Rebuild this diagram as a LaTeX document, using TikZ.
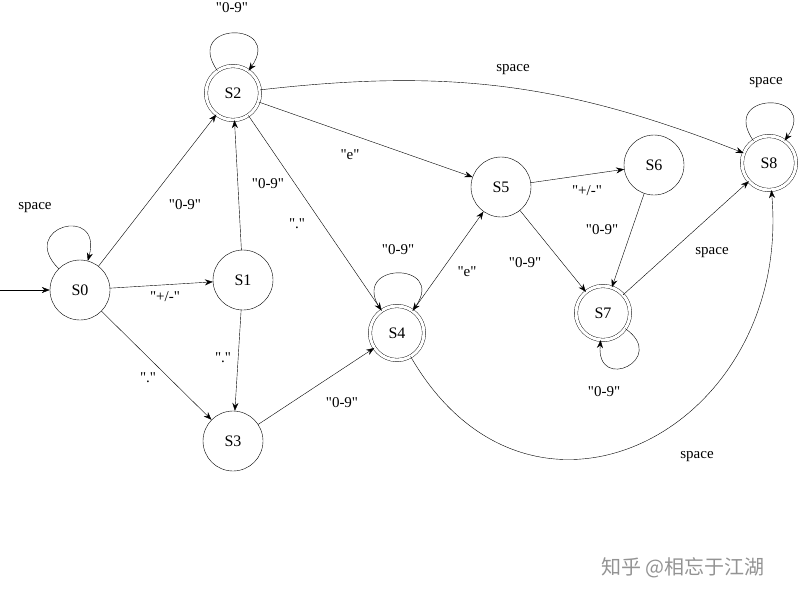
\documentclass[tikz,border=0pt]{standalone}
\usepackage{fontspec}
\setmainfont{Liberation Serif}[Ligatures=TeXOff]
\newfontfamily\cjk{Noto Sans CJK SC}
\usetikzlibrary{arrows.meta}
\newcommand{\qq}[1]{"#1"}
\begin{document}
\begin{tikzpicture}[x=1pt,y=-1pt,
  st/.style={circle,draw,minimum size=60pt,inner sep=0pt,font=\fontsize{16}{16}\selectfont},
  acc/.style={st,double,double distance=3pt,minimum size=54pt},
  lb/.style={font=\fontsize{15}{15}\selectfont},
  every edge/.style={draw,-{Stealth[length=8pt,width=6pt]}},
  >={Stealth[length=8pt,width=6pt]},
  every loop/.style={looseness=5,min distance=22pt}]
\useasboundingbox (0,0) rectangle (800,600);
\node[st] (s0) at (80,290) {S0};
\node[st] (s1) at (243,280) {S1};
\node[acc] (s2) at (233,93) {S2};
\node[st] (s3) at (233,441) {S3};
\node[acc] (s4) at (397,333) {S4};
\node[st] (s5) at (501,187) {S5};
\node[st] (s6) at (654,165) {S6};
\node[acc] (s7) at (603,313) {S7};
\node[acc] (s8) at (769,163) {S8};
\coordinate (in) at (0,290);
\draw[->] (in) -- (s0);
\path (s0) edge[out=135,in=75,loop] (s0);
\path (s2) edge[out=125,in=55,loop] (s2);
\path (s4) edge[out=125,in=55,loop] (s4);
\path (s8) edge[out=125,in=55,loop] (s8);
\path (s7) edge[out=-35,in=-95,loop] (s7);
\path (s0) edge (s2) (s0) edge (s1) (s0) edge (s3)
  (s1) edge (s2) (s1) edge (s3) (s2) edge (s5) (s2) edge (s4)
  (s3) edge (s4) (s4) edge (s5) (s5) edge (s6) (s5) edge (s7)
  (s6) edge (s7) (s7) edge (s8)
  (s2) edge[bend left=14] (s8)
  (s4) edge[out=-60,in=-85,looseness=1.55] (s8);
\node[lb] (l1) at (35,208) {space};
\node[lb] (l2) at (185,205) {\qq{0-9}};
\node[lb] (l3) at (165,297) {\qq{+/-}};
\node[lb] (l4) at (148,378) {\qq{.}};
\node[lb] (l5) at (268,184) {\qq{0-9}};
\node[lb] (l6) at (223,358) {\qq{.}};
\node[lb] (l7) at (232,8) {\qq{0-9}};
\node[lb] (l8) at (513,70) {space};
\node[lb] (l9) at (350,155) {\qq{e}};
\node[lb] (l10) at (297,224) {\qq{.}};
\node[lb] (l11) at (342,403) {\qq{0-9}};
\node[lb] (l12) at (398,250) {\qq{0-9}};
\node[lb] (l13) at (467,272) {\qq{e}};
\node[lb] (l14) at (697,457) {space};
\node[lb] (l15) at (587,191) {\qq{+/-}};
\node[lb] (l16) at (525,263) {\qq{0-9}};
\node[lb] (l17) at (602,230) {\qq{0-9}};
\node[lb] (l18) at (712,253) {space};
\node[lb] (l19) at (604,392) {\qq{0-9}};
\node[lb] (l20) at (766,83) {space};
\node[font=\cjk\fontsize{20}{20}\selectfont,text=gray!85] (wm) at (683,568) {知乎 @相忘于江湖};
\end{tikzpicture}
\end{document}
